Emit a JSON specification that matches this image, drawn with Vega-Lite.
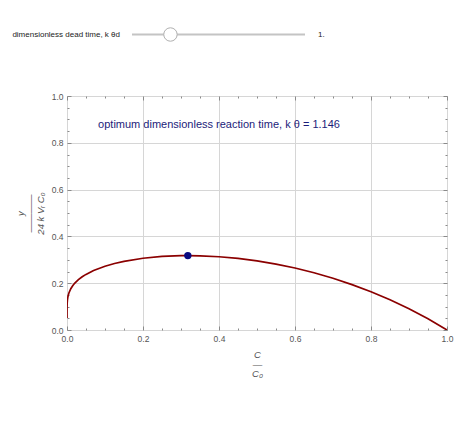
{
  "$schema": "https://vega.github.io/schema/vega-lite/v6.json",
  "padding": {"left": 12, "top": 25, "right": 5, "bottom": 5},
  "background": "white",
  "spacing": 47,
  "config": {
    "view": {"stroke": "#8a8a8a", "strokeWidth": 1},
    "axis": {
      "domain": false,
      "labelFont": "Liberation Sans",
      "labelFontSize": 8.5,
      "labelColor": "#555",
      "tickColor": "#8a8a8a",
      "titleFont": "Liberation Sans",
      "titleFontSize": 9.5,
      "titleFontStyle": "italic",
      "titleFontWeight": "normal",
      "titleColor": "#555",
      "gridColor": "#d6d6d6"
    }
  },
  "datasets": {
    "slider": [
      {"lo": 0, "hi": 4.5, "value": 1, "label": "dimensionless dead time, k θd", "shown": "1."}
    ],
    "curve": [
      {"c": 0.00000001, "y": 0.0515},
      {"c": 0.0000001, "y": 0.0584},
      {"c": 0.000001, "y": 0.0675},
      {"c": 0.00001, "y": 0.0799},
      {"c": 0.0001, "y": 0.0979},
      {"c": 0.0005, "y": 0.1162},
      {"c": 0.001, "y": 0.1263},
      {"c": 0.002, "y": 0.1383},
      {"c": 0.003, "y": 0.1464},
      {"c": 0.005, "y": 0.158},
      {"c": 0.01, "y": 0.1766},
      {"c": 0.015, "y": 0.1894},
      {"c": 0.02, "y": 0.1995},
      {"c": 0.03, "y": 0.2152},
      {"c": 0.04, "y": 0.2276},
      {"c": 0.05, "y": 0.2377},
      {"c": 0.07, "y": 0.2542},
      {"c": 0.1, "y": 0.2725},
      {"c": 0.125, "y": 0.2841},
      {"c": 0.15, "y": 0.2934},
      {"c": 0.2, "y": 0.3066},
      {"c": 0.25, "y": 0.3143},
      {"c": 0.3, "y": 0.3176},
      {"c": 0.318, "y": 0.3178},
      {"c": 0.35, "y": 0.3171},
      {"c": 0.4, "y": 0.3131},
      {"c": 0.45, "y": 0.3058},
      {"c": 0.5, "y": 0.2953},
      {"c": 0.55, "y": 0.2816},
      {"c": 0.6, "y": 0.2648},
      {"c": 0.65, "y": 0.2446},
      {"c": 0.7, "y": 0.2211},
      {"c": 0.75, "y": 0.1941},
      {"c": 0.8, "y": 0.1635},
      {"c": 0.85, "y": 0.129},
      {"c": 0.9, "y": 0.0905},
      {"c": 0.95, "y": 0.0476},
      {"c": 1.0, "y": 0.0}
    ],
    "optimum": [
      {"c": 0.318, "y": 0.318}
    ],
    "note": [
      {"c": 0.4, "y": 0.875, "label": "optimum dimensionless reaction time, k θ = 1.146"}
    ]
  },
  "vconcat": [
    {
      "width": 238,
      "height": 1,
      "view": {"stroke": null},
      "data": {"name": "slider"},
      "layer": [
        {
          "mark": {"type": "rule", "color": "#c4c4c4", "strokeWidth": 2},
          "encoding": {
            "x": {"field": "lo", "type": "quantitative", "scale": {"domain": [0, 4.5], "range": [65, 238], "nice": false}, "axis": null},
            "x2": {"field": "hi"}
          }
        },
        {
          "mark": {"type": "point", "filled": true, "fill": "white", "stroke": "#b0b0b0", "strokeWidth": 1, "size": 180, "opacity": 1},
          "encoding": {
            "x": {"field": "value", "type": "quantitative"}
          }
        },
        {
          "mark": {"type": "text", "align": "right", "baseline": "middle", "dx": -12, "font": "Liberation Sans", "fontSize": 8, "color": "#222"},
          "encoding": {
            "x": {"field": "lo", "type": "quantitative"},
            "text": {"field": "label"}
          }
        },
        {
          "mark": {"type": "text", "align": "left", "baseline": "middle", "dx": 13, "font": "Liberation Sans", "fontSize": 8, "color": "#222"},
          "encoding": {
            "x": {"field": "hi", "type": "quantitative"},
            "text": {"field": "shown"}
          }
        }
      ]
    },
    {
      "width": 380,
      "height": 234,
      "layer": [
        {
          "data": {"name": "curve"},
          "mark": {"type": "line", "color": "#8b0000", "strokeWidth": 1.7, "clip": true},
          "encoding": {
            "x": {
              "field": "c", "type": "quantitative",
              "scale": {"domain": [0, 1], "nice": false, "zero": false},
              "axis": {
                "orient": "bottom",
                "values": [0, 0.05, 0.1, 0.15, 0.2, 0.25, 0.3, 0.35, 0.4, 0.45, 0.5, 0.55, 0.6, 0.65, 0.7, 0.75, 0.8, 0.85, 0.9, 0.95, 1],
                "labelExpr": "round(datum.value*20) % 4 == 0 ? format(datum.value, '.1f') : ''",
                "tickSize": {"condition": {"test": "round(datum.value*20) % 4 == 0", "value": -4}, "value": -2},
                "labelPadding": 8,
                "labelFlush": false,
                "labelOverlap": false,
                "grid": true,
                "gridOpacity": {"condition": {"test": "round(datum.value*20) % 4 == 0", "value": 1}, "value": 0},
                "title": ["C", "—", "C₀"],
                "titlePadding": 5,
                "titleLineHeight": 9.5
              }
            },
            "y": {
              "field": "y", "type": "quantitative",
              "scale": {"domain": [0, 1], "nice": false, "zero": false},
              "axis": {
                "orient": "left",
                "values": [0, 0.05, 0.1, 0.15, 0.2, 0.25, 0.3, 0.35, 0.4, 0.45, 0.5, 0.55, 0.6, 0.65, 0.7, 0.75, 0.8, 0.85, 0.9, 0.95, 1],
                "labelExpr": "round(datum.value*20) % 4 == 0 ? format(datum.value, '.1f') : ''",
                "tickSize": {"condition": {"test": "round(datum.value*20) % 4 == 0", "value": -4}, "value": -2},
                "labelPadding": 8,
                "labelFlush": false,
                "labelOverlap": false,
                "grid": true,
                "gridOpacity": {"condition": {"test": "round(datum.value*20) % 4 == 0", "value": 1}, "value": 0},
                "title": ["y", "————", "24 k Vᵣ C₀"],
                "titlePadding": 6,
                "titleLineHeight": 10
              }
            }
          }
        },
        {
          "data": {"name": "optimum"},
          "mark": {"type": "circle", "size": 55, "color": "#0a0a80", "opacity": 1},
          "encoding": {
            "x": {
              "field": "c", "type": "quantitative",
              "axis": {
                "orient": "top",
                "values": [0, 0.05, 0.1, 0.15, 0.2, 0.25, 0.3, 0.35, 0.4, 0.45, 0.5, 0.55, 0.6, 0.65, 0.7, 0.75, 0.8, 0.85, 0.9, 0.95, 1],
                "labels": false,
                "grid": false,
                "title": null,
                "tickSize": {"condition": {"test": "round(datum.value*20) % 4 == 0", "value": -4}, "value": -2}
              }
            },
            "y": {
              "field": "y", "type": "quantitative",
              "axis": {
                "orient": "right",
                "values": [0, 0.05, 0.1, 0.15, 0.2, 0.25, 0.3, 0.35, 0.4, 0.45, 0.5, 0.55, 0.6, 0.65, 0.7, 0.75, 0.8, 0.85, 0.9, 0.95, 1],
                "labels": false,
                "grid": false,
                "title": null,
                "tickSize": {"condition": {"test": "round(datum.value*20) % 4 == 0", "value": -4}, "value": -2}
              }
            }
          }
        },
        {
          "data": {"name": "note"},
          "mark": {"type": "text", "font": "Liberation Sans", "fontSize": 11, "color": "#1c1c7a", "align": "center", "baseline": "middle"},
          "encoding": {
            "x": {"field": "c", "type": "quantitative", "axis": null},
            "y": {"field": "y", "type": "quantitative", "axis": null},
            "text": {"field": "label"}
          }
        }
      ],
      "resolve": {"axis": {"x": "independent", "y": "independent"}}
    }
  ]
}
